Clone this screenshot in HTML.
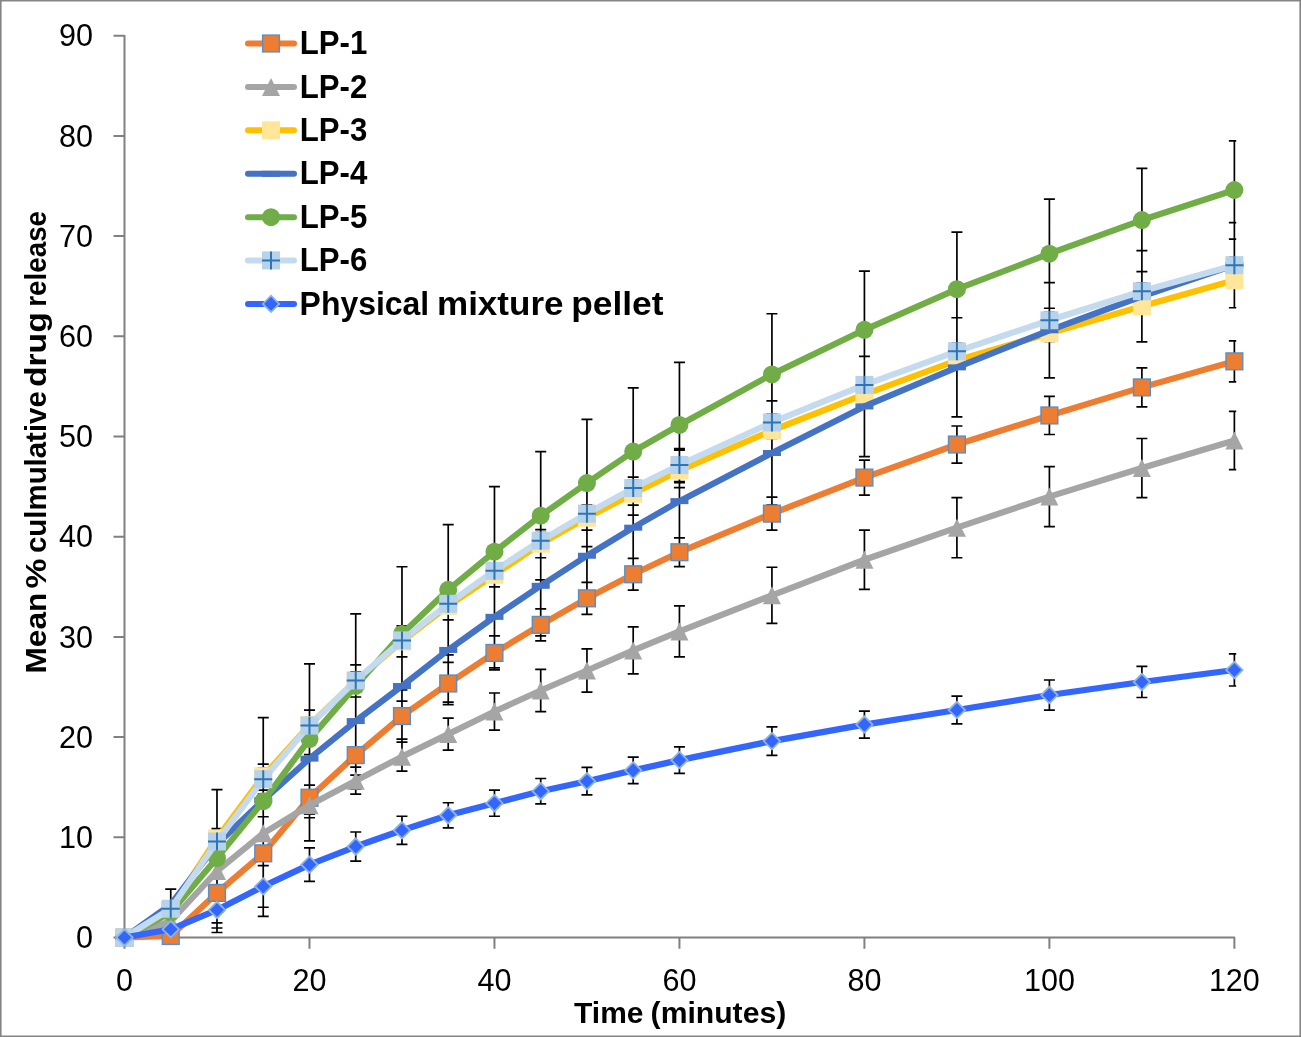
<!DOCTYPE html>
<html lang="en"><head><meta charset="utf-8"><title>Mean % cumulative drug release</title>
<style>html,body{margin:0;padding:0;background:#fff}svg{display:block}</style></head>
<body>
<svg width="1301" height="1037" viewBox="0 0 1301 1037">
<defs><clipPath id="pc"><rect x="110" y="20" width="1126.2" height="940"/></clipPath></defs>
<rect x="0" y="0" width="1301" height="1037" fill="#fff"/>
<path d="M0 0H1301V1037H0Z M1.6 1.4V1035.4H1299.4V1.4Z" fill="#858585" fill-rule="evenodd"/>
<path d="M124.50 34.95V938.25M123.75 937.50H1235.13M113.50 937.50H124.50M113.50 837.30H124.50M113.50 737.10H124.50M113.50 636.90H124.50M113.50 536.70H124.50M113.50 436.50H124.50M113.50 336.30H124.50M113.50 236.10H124.50M113.50 135.90H124.50M113.50 35.70H124.50M124.50 937.50V948.70M309.48 937.50V948.70M494.46 937.50V948.70M679.44 937.50V948.70M864.42 937.50V948.70M1049.40 937.50V948.70M1234.38 937.50V948.70" stroke="#808080" stroke-width="2" fill="none"/>
<g font-family="'Liberation Sans', Arial, sans-serif" font-size="32" fill="#000">
<text x="92.9" y="948.10" text-anchor="end" textLength="17.0" lengthAdjust="spacingAndGlyphs">0</text>
<text x="92.9" y="847.90" text-anchor="end" textLength="34.0" lengthAdjust="spacingAndGlyphs">10</text>
<text x="92.9" y="747.70" text-anchor="end" textLength="34.0" lengthAdjust="spacingAndGlyphs">20</text>
<text x="92.9" y="647.50" text-anchor="end" textLength="34.0" lengthAdjust="spacingAndGlyphs">30</text>
<text x="92.9" y="547.30" text-anchor="end" textLength="34.0" lengthAdjust="spacingAndGlyphs">40</text>
<text x="92.9" y="447.10" text-anchor="end" textLength="34.0" lengthAdjust="spacingAndGlyphs">50</text>
<text x="92.9" y="346.90" text-anchor="end" textLength="34.0" lengthAdjust="spacingAndGlyphs">60</text>
<text x="92.9" y="246.70" text-anchor="end" textLength="34.0" lengthAdjust="spacingAndGlyphs">70</text>
<text x="92.9" y="146.50" text-anchor="end" textLength="34.0" lengthAdjust="spacingAndGlyphs">80</text>
<text x="92.9" y="46.30" text-anchor="end" textLength="34.0" lengthAdjust="spacingAndGlyphs">90</text>
<text x="124.50" y="990.8" font-size="31" text-anchor="middle" textLength="17.0" lengthAdjust="spacingAndGlyphs">0</text>
<text x="309.48" y="990.8" font-size="31" text-anchor="middle" textLength="34.0" lengthAdjust="spacingAndGlyphs">20</text>
<text x="494.46" y="990.8" font-size="31" text-anchor="middle" textLength="34.0" lengthAdjust="spacingAndGlyphs">40</text>
<text x="679.44" y="990.8" font-size="31" text-anchor="middle" textLength="34.0" lengthAdjust="spacingAndGlyphs">60</text>
<text x="864.42" y="990.8" font-size="31" text-anchor="middle" textLength="34.0" lengthAdjust="spacingAndGlyphs">80</text>
<text x="1049.40" y="990.8" font-size="31" text-anchor="middle" textLength="51.0" lengthAdjust="spacingAndGlyphs">100</text>
<text x="1234.38" y="990.8" font-size="31" text-anchor="middle" textLength="51.0" lengthAdjust="spacingAndGlyphs">120</text>
</g>
<g font-family="'Liberation Sans', Arial, sans-serif" font-weight="bold" fill="#000">
<text y="1023" font-size="30"><tspan x="574.1" textLength="69.4" lengthAdjust="spacingAndGlyphs">Time</tspan> <tspan x="650.6" textLength="135.6" lengthAdjust="spacingAndGlyphs">(minutes)</tspan></text>
<text transform="translate(46.4 0) rotate(-90)" y="0" font-size="29.6"><tspan x="-673.5" textLength="80.9" lengthAdjust="spacingAndGlyphs">Mean</tspan> <tspan x="-588.6" textLength="29.9" lengthAdjust="spacingAndGlyphs">%</tspan> <tspan x="-553.0" textLength="161.8" lengthAdjust="spacingAndGlyphs">culmulative</tspan> <tspan x="-387.0" textLength="74.7" lengthAdjust="spacingAndGlyphs">drug</tspan> <tspan x="-306.8" textLength="95.9" lengthAdjust="spacingAndGlyphs">release</tspan></text>
<text x="299.7" y="54.10" font-size="32.4" textLength="67.6" lengthAdjust="spacingAndGlyphs">LP-1</text>
<text x="299.7" y="97.50" font-size="32.4" textLength="67.6" lengthAdjust="spacingAndGlyphs">LP-2</text>
<text x="299.7" y="140.90" font-size="32.4" textLength="67.6" lengthAdjust="spacingAndGlyphs">LP-3</text>
<text x="299.7" y="184.40" font-size="32.4" textLength="67.6" lengthAdjust="spacingAndGlyphs">LP-4</text>
<text x="299.7" y="227.80" font-size="32.4" textLength="67.6" lengthAdjust="spacingAndGlyphs">LP-5</text>
<text x="299.7" y="271.00" font-size="32.4" textLength="67.6" lengthAdjust="spacingAndGlyphs">LP-6</text>
<text y="314.50" font-size="32.4"><tspan x="299.6" textLength="129.6" lengthAdjust="spacingAndGlyphs">Physical</tspan> <tspan x="437.0" textLength="126.5" lengthAdjust="spacingAndGlyphs">mixture</tspan> <tspan x="571.3" textLength="92.2" lengthAdjust="spacingAndGlyphs">pellet</tspan></text>
</g>
<path d="M248 43.5H294" stroke="#ED7D31" stroke-width="6" stroke-linecap="round" fill="none"/>
<rect x="262.60" y="35.10" width="16.80" height="16.80" fill="#ED7D31" stroke="#5590CC" stroke-width="1.4"/>
<path d="M248 86.9H294" stroke="#A5A5A5" stroke-width="6" stroke-linecap="round" fill="none"/>
<path d="M271.00 77.90L280.00 95.90L262.00 95.90Z" fill="#A5A5A5"/>
<path d="M248 130.3H294" stroke="#FFC000" stroke-width="6" stroke-linecap="round" fill="none"/>
<rect x="262.00" y="121.30" width="18.00" height="18.00" fill="#FFE699"/>
<path d="M248 173.8H294" stroke="#4472C4" stroke-width="6" stroke-linecap="round" fill="none"/>
<rect x="262.00" y="170.80" width="18.00" height="6" fill="#4472C4"/>
<path d="M248 217.2H294" stroke="#70AD47" stroke-width="6" stroke-linecap="round" fill="none"/>
<circle cx="271.00" cy="217.20" r="9.00" fill="#70AD47"/>
<path d="M248 260.4H294" stroke="#C3DAEF" stroke-width="6" stroke-linecap="round" fill="none"/>
<rect x="262.00" y="251.40" width="18.00" height="18.00" fill="#B7D2EB"/><path d="M262.00 260.40H280.00M271.00 251.40V269.40" stroke="#2E75B6" stroke-width="2" fill="none"/>
<path d="M248 303.9H294" stroke="#3366FF" stroke-width="6" stroke-linecap="round" fill="none"/>
<path d="M271.00 295.70L279.20 303.90L271.00 312.10L262.80 303.90Z" fill="#3366FF" stroke="#8DB4E2" stroke-width="1.8"/>
<path d="M170.75 932.99V939.00M165.25 932.99h11M165.25 939.00h11M216.99 853.33V932.49M211.49 853.33h11M211.49 932.49h11M263.24 790.21V916.46M257.74 790.21h11M257.74 916.46h11M309.48 754.63V840.81M303.98 754.63h11M303.98 840.81h11M355.73 721.07V789.20M350.23 721.07h11M350.23 789.20h11M401.97 690.01V742.11M396.47 690.01h11M396.47 742.11h11M448.22 662.45V704.53M442.72 662.45h11M442.72 704.53h11M494.46 635.90V669.97M488.96 635.90h11M488.96 669.97h11M540.71 608.84V640.91M535.21 608.84h11M535.21 640.91h11M586.95 582.29V614.36M581.45 582.29h11M581.45 614.36h11M633.20 558.44V590.11M627.70 558.44h11M627.70 590.11h11M679.44 537.90V566.56M673.94 537.90h11M673.94 566.56h11M771.93 497.12V530.19M766.43 497.12h11M766.43 530.19h11M864.42 460.05V495.12M858.92 460.05h11M858.92 495.12h11M956.91 425.98V463.05M951.41 425.98h11M951.41 463.05h11M1049.40 396.42V434.50M1043.90 396.42h11M1043.90 434.50h11M1141.89 367.86V406.94M1136.39 367.86h11M1136.39 406.94h11M1234.38 340.81V381.89M1228.88 340.81h11M1228.88 381.89h11M170.75 918.26V924.27M165.25 918.26h11M165.25 924.27h11M216.99 863.05V879.08M211.49 863.05h11M211.49 879.08h11M263.24 816.76V849.83M257.74 816.76h11M257.74 849.83h11M309.48 785.20V817.76M303.98 785.20h11M303.98 817.76h11M355.73 767.16V794.21M350.23 767.16h11M350.23 794.21h11M401.97 742.11V771.17M396.47 742.11h11M396.47 771.17h11M448.22 718.06V750.13M442.72 718.06h11M442.72 750.13h11M494.46 693.01V730.09M488.96 693.01h11M488.96 730.09h11M540.71 669.47V711.55M535.21 669.47h11M535.21 711.55h11M586.95 648.82V692.11M581.45 648.82h11M581.45 692.11h11M633.20 626.88V673.97M627.70 626.88h11M627.70 673.97h11M679.44 605.84V656.94M673.94 605.84h11M673.94 656.94h11M771.93 567.26V623.37M766.43 567.26h11M766.43 623.37h11M864.42 530.19V589.31M858.92 530.19h11M858.92 589.31h11M956.91 497.62V557.74M951.41 497.62h11M951.41 557.74h11M1049.40 466.56V526.68M1043.90 466.56h11M1043.90 526.68h11M1141.89 438.50V497.62M1136.39 438.50h11M1136.39 497.62h11M1234.38 411.45V469.57M1228.88 411.45h11M1228.88 469.57h11M170.75 903.93V913.95M165.25 903.93h11M165.25 913.95h11M216.99 830.29V846.32M211.49 830.29h11M211.49 846.32h11M263.24 768.16V784.19M257.74 768.16h11M257.74 784.19h11M309.48 717.06V733.09M303.98 717.06h11M303.98 733.09h11M355.73 664.96V697.02M350.23 664.96h11M350.23 697.02h11M401.97 625.88V656.94M396.47 625.88h11M396.47 656.94h11M448.22 591.81V619.87M442.72 591.81h11M442.72 619.87h11M494.46 562.75V586.80M488.96 562.75h11M488.96 586.80h11M540.71 529.69V557.74M535.21 529.69h11M535.21 557.74h11M586.95 505.14V530.19M581.45 505.14h11M581.45 530.19h11M633.20 482.09V505.14M627.70 482.09h11M627.70 505.14h11M679.44 458.54V482.59M673.94 458.54h11M673.94 482.59h11M771.93 422.47V438.50M766.43 422.47h11M766.43 438.50h11M864.42 386.40V402.43M858.92 386.40h11M858.92 402.43h11M956.91 352.33V368.36M951.41 352.33h11M951.41 368.36h11M1049.40 325.28V341.31M1043.90 325.28h11M1043.90 341.31h11M1141.89 298.22V314.26M1136.39 298.22h11M1136.39 314.26h11M1234.38 272.17V288.20M1228.88 272.17h11M1228.88 288.20h11M170.75 901.43V907.44M165.25 901.43h11M165.25 907.44h11M216.99 829.28V859.34M211.49 829.28h11M211.49 859.34h11M263.24 764.15V836.30M257.74 764.15h11M257.74 836.30h11M309.48 710.05V807.24M303.98 710.05h11M303.98 807.24h11M355.73 671.97V775.18M350.23 671.97h11M350.23 775.18h11M401.97 632.89V739.10M396.47 632.89h11M396.47 739.10h11M448.22 597.82V702.03M442.72 597.82h11M442.72 702.03h11M494.46 565.76V667.96M488.96 565.76h11M488.96 667.96h11M540.71 535.70V635.90M535.21 535.70h11M535.21 635.90h11M586.95 506.64V604.84M581.45 506.64h11M581.45 604.84h11M633.20 477.08V578.28M627.70 477.08h11M627.70 578.28h11M679.44 450.03V552.23M673.94 450.03h11M673.94 552.23h11M771.93 400.93V505.14M766.43 400.93h11M766.43 505.14h11M864.42 356.34V456.54M858.92 356.34h11M858.92 456.54h11M956.91 317.76V416.96M951.41 317.76h11M951.41 416.96h11M1049.40 282.69V377.88M1043.90 282.69h11M1043.90 377.88h11M1141.89 250.63V341.81M1136.39 250.63h11M1136.39 341.81h11M1234.38 222.57V307.74M1228.88 222.57h11M1228.88 307.74h11M170.75 906.44V918.46M165.25 906.44h11M165.25 918.46h11M216.99 789.60V922.97M211.49 789.60h11M211.49 922.97h11M263.24 717.56V884.89M257.74 717.56h11M257.74 884.89h11M309.48 663.95V814.25M303.98 663.95h11M303.98 814.25h11M355.73 613.85V758.14M350.23 613.85h11M350.23 758.14h11M401.97 566.76V701.03M396.47 566.76h11M396.47 701.03h11M448.22 524.68V654.94M442.72 524.68h11M442.72 654.94h11M494.46 486.60V616.86M488.96 486.60h11M488.96 616.86h11M540.71 451.53V579.79M535.21 451.53h11M535.21 579.79h11M586.95 419.47V546.72M581.45 419.47h11M581.45 546.72h11M633.20 387.90V515.16M627.70 387.90h11M627.70 515.16h11M679.44 362.35V487.60M673.94 362.35h11M673.94 487.60h11M771.93 313.75V435.00M766.43 313.75h11M766.43 435.00h11M864.42 271.17V388.40M858.92 271.17h11M858.92 388.40h11M956.91 232.09V346.32M951.41 232.09h11M951.41 346.32h11M1049.40 199.03V308.24M1043.90 199.03h11M1043.90 308.24h11M1141.89 168.47V271.67M1136.39 168.47h11M1136.39 271.67h11M1234.38 140.91V239.11M1228.88 140.91h11M1228.88 239.11h11M170.75 889.20V916.76M165.25 889.20h11M165.25 916.76h11M216.99 828.48V854.53M211.49 828.48h11M211.49 854.53h11M263.24 764.15V794.21M257.74 764.15h11M257.74 794.21h11M309.48 710.05V741.11M303.98 710.05h11M303.98 741.11h11M355.73 672.47V688.50M350.23 672.47h11M350.23 688.50h11M401.97 632.39V648.42M396.47 632.39h11M396.47 648.42h11M448.22 595.82V611.85M442.72 595.82h11M442.72 611.85h11M494.46 562.75V578.78M488.96 562.75h11M488.96 578.78h11M540.71 532.69V548.72M535.21 532.69h11M535.21 548.72h11M586.95 505.64V521.67M581.45 505.64h11M581.45 521.67h11M633.20 480.09V496.12M627.70 480.09h11M627.70 496.12h11M679.44 448.52V481.59M673.94 448.52h11M673.94 481.59h11M771.93 414.46V430.49M766.43 414.46h11M766.43 430.49h11M864.42 376.88V392.91M858.92 376.88h11M858.92 392.91h11M956.91 343.31V359.35M951.41 343.31h11M951.41 359.35h11M1049.40 312.25V328.28M1043.90 312.25h11M1043.90 328.28h11M1141.89 283.19V299.23M1136.39 283.19h11M1136.39 299.23h11M1234.38 257.14V273.17M1228.88 257.14h11M1228.88 273.17h11M170.75 926.28V932.29M165.25 926.28h11M165.25 932.29h11M216.99 891.91V927.98M211.49 891.91h11M211.49 927.98h11M263.24 865.56V907.24M257.74 865.56h11M257.74 907.24h11M309.48 847.92V881.39M303.98 847.92h11M303.98 881.39h11M355.73 831.99V861.05M350.23 831.99h11M350.23 861.05h11M401.97 816.26V844.31M396.47 816.26h11M396.47 844.31h11M448.22 802.73V827.78M442.72 802.73h11M442.72 827.78h11M494.46 790.21V816.26M488.96 790.21h11M488.96 816.26h11M540.71 778.48V803.93M535.21 778.48h11M535.21 803.93h11M586.95 767.46V794.92M581.45 767.46h11M581.45 794.92h11M633.20 757.04V783.69M627.70 757.04h11M627.70 783.69h11M679.44 746.82V773.47M673.94 746.82h11M673.94 773.47h11M771.93 726.78V755.44M766.43 726.78h11M766.43 755.44h11M864.42 711.05V738.10M858.92 711.05h11M858.92 738.10h11M956.91 696.22V723.87M951.41 696.22h11M951.41 723.87h11M1049.40 679.99V710.05M1043.90 679.99h11M1043.90 710.05h11M1141.89 666.46V697.52M1136.39 666.46h11M1136.39 697.52h11M1234.38 653.93V686.00M1228.88 653.93h11M1228.88 686.00h11" stroke="#000" stroke-width="1.7" fill="none" clip-path="url(#pc)"/>
<polyline points="124.50,937.50 170.75,936.00 216.99,892.91 263.24,853.33 309.48,797.72 355.73,755.14 401.97,716.06 448.22,683.49 494.46,652.93 540.71,624.88 586.95,598.32 633.20,574.28 679.44,552.23 771.93,513.65 864.42,477.58 956.91,444.52 1049.40,415.46 1141.89,387.40 1234.38,361.35" stroke="#ED7D31" stroke-width="6.2" stroke-linejoin="round" stroke-linecap="round" fill="none"/>
<rect x="116.10" y="929.10" width="16.80" height="16.80" fill="#ED7D31" stroke="#5590CC" stroke-width="1.4"/>
<rect x="162.34" y="927.60" width="16.80" height="16.80" fill="#ED7D31" stroke="#5590CC" stroke-width="1.4"/>
<rect x="208.59" y="884.51" width="16.80" height="16.80" fill="#ED7D31" stroke="#5590CC" stroke-width="1.4"/>
<rect x="254.84" y="844.93" width="16.80" height="16.80" fill="#ED7D31" stroke="#5590CC" stroke-width="1.4"/>
<rect x="301.08" y="789.32" width="16.80" height="16.80" fill="#ED7D31" stroke="#5590CC" stroke-width="1.4"/>
<rect x="347.33" y="746.74" width="16.80" height="16.80" fill="#ED7D31" stroke="#5590CC" stroke-width="1.4"/>
<rect x="393.57" y="707.66" width="16.80" height="16.80" fill="#ED7D31" stroke="#5590CC" stroke-width="1.4"/>
<rect x="439.82" y="675.09" width="16.80" height="16.80" fill="#ED7D31" stroke="#5590CC" stroke-width="1.4"/>
<rect x="486.06" y="644.53" width="16.80" height="16.80" fill="#ED7D31" stroke="#5590CC" stroke-width="1.4"/>
<rect x="532.31" y="616.48" width="16.80" height="16.80" fill="#ED7D31" stroke="#5590CC" stroke-width="1.4"/>
<rect x="578.55" y="589.92" width="16.80" height="16.80" fill="#ED7D31" stroke="#5590CC" stroke-width="1.4"/>
<rect x="624.80" y="565.88" width="16.80" height="16.80" fill="#ED7D31" stroke="#5590CC" stroke-width="1.4"/>
<rect x="671.04" y="543.83" width="16.80" height="16.80" fill="#ED7D31" stroke="#5590CC" stroke-width="1.4"/>
<rect x="763.53" y="505.25" width="16.80" height="16.80" fill="#ED7D31" stroke="#5590CC" stroke-width="1.4"/>
<rect x="856.02" y="469.18" width="16.80" height="16.80" fill="#ED7D31" stroke="#5590CC" stroke-width="1.4"/>
<rect x="948.51" y="436.12" width="16.80" height="16.80" fill="#ED7D31" stroke="#5590CC" stroke-width="1.4"/>
<rect x="1041.00" y="407.06" width="16.80" height="16.80" fill="#ED7D31" stroke="#5590CC" stroke-width="1.4"/>
<rect x="1133.49" y="379.00" width="16.80" height="16.80" fill="#ED7D31" stroke="#5590CC" stroke-width="1.4"/>
<rect x="1225.98" y="352.95" width="16.80" height="16.80" fill="#ED7D31" stroke="#5590CC" stroke-width="1.4"/>
<polyline points="124.50,937.50 170.75,921.27 216.99,871.07 263.24,833.29 309.48,805.24 355.73,780.69 401.97,756.64 448.22,734.09 494.46,711.55 540.71,690.51 586.95,670.47 633.20,650.43 679.44,631.39 771.93,595.32 864.42,559.75 956.91,527.68 1049.40,496.62 1141.89,468.06 1234.38,440.51" stroke="#A5A5A5" stroke-width="6.2" stroke-linejoin="round" stroke-linecap="round" fill="none"/>
<path d="M124.50 928.50L133.50 946.50L115.50 946.50Z" fill="#A5A5A5"/>
<path d="M170.75 912.27L179.75 930.27L161.75 930.27Z" fill="#A5A5A5"/>
<path d="M216.99 862.07L225.99 880.07L207.99 880.07Z" fill="#A5A5A5"/>
<path d="M263.24 824.29L272.24 842.29L254.24 842.29Z" fill="#A5A5A5"/>
<path d="M309.48 796.24L318.48 814.24L300.48 814.24Z" fill="#A5A5A5"/>
<path d="M355.73 771.69L364.73 789.69L346.73 789.69Z" fill="#A5A5A5"/>
<path d="M401.97 747.64L410.97 765.64L392.97 765.64Z" fill="#A5A5A5"/>
<path d="M448.22 725.09L457.22 743.09L439.22 743.09Z" fill="#A5A5A5"/>
<path d="M494.46 702.55L503.46 720.55L485.46 720.55Z" fill="#A5A5A5"/>
<path d="M540.71 681.51L549.71 699.51L531.71 699.51Z" fill="#A5A5A5"/>
<path d="M586.95 661.47L595.95 679.47L577.95 679.47Z" fill="#A5A5A5"/>
<path d="M633.20 641.43L642.20 659.43L624.20 659.43Z" fill="#A5A5A5"/>
<path d="M679.44 622.39L688.44 640.39L670.44 640.39Z" fill="#A5A5A5"/>
<path d="M771.93 586.32L780.93 604.32L762.93 604.32Z" fill="#A5A5A5"/>
<path d="M864.42 550.75L873.42 568.75L855.42 568.75Z" fill="#A5A5A5"/>
<path d="M956.91 518.68L965.91 536.68L947.91 536.68Z" fill="#A5A5A5"/>
<path d="M1049.40 487.62L1058.40 505.62L1040.40 505.62Z" fill="#A5A5A5"/>
<path d="M1141.89 459.06L1150.89 477.06L1132.89 477.06Z" fill="#A5A5A5"/>
<path d="M1234.38 431.51L1243.38 449.51L1225.38 449.51Z" fill="#A5A5A5"/>
<polyline points="124.50,937.50 170.75,908.94 216.99,838.30 263.24,776.18 309.48,725.08 355.73,680.99 401.97,641.41 448.22,605.84 494.46,574.78 540.71,543.71 586.95,517.66 633.20,493.61 679.44,470.57 771.93,430.49 864.42,394.42 956.91,360.35 1049.40,333.29 1141.89,306.24 1234.38,280.19" stroke="#FFC000" stroke-width="6.2" stroke-linejoin="round" stroke-linecap="round" fill="none"/>
<rect x="115.50" y="928.50" width="18.00" height="18.00" fill="#FFE699"/>
<rect x="161.75" y="899.94" width="18.00" height="18.00" fill="#FFE699"/>
<rect x="207.99" y="829.30" width="18.00" height="18.00" fill="#FFE699"/>
<rect x="254.24" y="767.18" width="18.00" height="18.00" fill="#FFE699"/>
<rect x="300.48" y="716.08" width="18.00" height="18.00" fill="#FFE699"/>
<rect x="346.73" y="671.99" width="18.00" height="18.00" fill="#FFE699"/>
<rect x="392.97" y="632.41" width="18.00" height="18.00" fill="#FFE699"/>
<rect x="439.22" y="596.84" width="18.00" height="18.00" fill="#FFE699"/>
<rect x="485.46" y="565.78" width="18.00" height="18.00" fill="#FFE699"/>
<rect x="531.71" y="534.71" width="18.00" height="18.00" fill="#FFE699"/>
<rect x="577.95" y="508.66" width="18.00" height="18.00" fill="#FFE699"/>
<rect x="624.20" y="484.61" width="18.00" height="18.00" fill="#FFE699"/>
<rect x="670.44" y="461.57" width="18.00" height="18.00" fill="#FFE699"/>
<rect x="762.93" y="421.49" width="18.00" height="18.00" fill="#FFE699"/>
<rect x="855.42" y="385.42" width="18.00" height="18.00" fill="#FFE699"/>
<rect x="947.91" y="351.35" width="18.00" height="18.00" fill="#FFE699"/>
<rect x="1040.40" y="324.29" width="18.00" height="18.00" fill="#FFE699"/>
<rect x="1132.89" y="297.24" width="18.00" height="18.00" fill="#FFE699"/>
<rect x="1225.38" y="271.19" width="18.00" height="18.00" fill="#FFE699"/>
<polyline points="124.50,937.50 170.75,904.43 216.99,844.31 263.24,800.23 309.48,758.64 355.73,721.07 401.97,686.00 448.22,649.93 494.46,616.86 540.71,585.80 586.95,555.74 633.20,527.68 679.44,501.13 771.93,453.03 864.42,406.44 956.91,367.36 1049.40,330.29 1141.89,296.22 1234.38,265.16" stroke="#4472C4" stroke-width="6.2" stroke-linejoin="round" stroke-linecap="round" fill="none"/>
<rect x="115.50" y="934.50" width="18.00" height="6" fill="#4472C4"/>
<rect x="161.75" y="901.43" width="18.00" height="6" fill="#4472C4"/>
<rect x="207.99" y="841.31" width="18.00" height="6" fill="#4472C4"/>
<rect x="254.24" y="797.23" width="18.00" height="6" fill="#4472C4"/>
<rect x="300.48" y="755.64" width="18.00" height="6" fill="#4472C4"/>
<rect x="346.73" y="718.07" width="18.00" height="6" fill="#4472C4"/>
<rect x="392.97" y="683.00" width="18.00" height="6" fill="#4472C4"/>
<rect x="439.22" y="646.93" width="18.00" height="6" fill="#4472C4"/>
<rect x="485.46" y="613.86" width="18.00" height="6" fill="#4472C4"/>
<rect x="531.71" y="582.80" width="18.00" height="6" fill="#4472C4"/>
<rect x="577.95" y="552.74" width="18.00" height="6" fill="#4472C4"/>
<rect x="624.20" y="524.68" width="18.00" height="6" fill="#4472C4"/>
<rect x="670.44" y="498.13" width="18.00" height="6" fill="#4472C4"/>
<rect x="762.93" y="450.03" width="18.00" height="6" fill="#4472C4"/>
<rect x="855.42" y="403.44" width="18.00" height="6" fill="#4472C4"/>
<rect x="947.91" y="364.36" width="18.00" height="6" fill="#4472C4"/>
<rect x="1040.40" y="327.29" width="18.00" height="6" fill="#4472C4"/>
<rect x="1132.89" y="293.22" width="18.00" height="6" fill="#4472C4"/>
<rect x="1225.38" y="262.16" width="18.00" height="6" fill="#4472C4"/>
<polyline points="124.50,937.50 170.75,912.45 216.99,858.04 263.24,801.23 309.48,739.10 355.73,686.00 401.97,633.89 448.22,589.81 494.46,551.73 540.71,515.66 586.95,483.09 633.20,451.53 679.44,424.98 771.93,374.38 864.42,329.79 956.91,289.21 1049.40,253.63 1141.89,220.07 1234.38,190.01" stroke="#70AD47" stroke-width="6.2" stroke-linejoin="round" stroke-linecap="round" fill="none"/>
<circle cx="124.50" cy="937.50" r="9.00" fill="#70AD47"/>
<circle cx="170.75" cy="912.45" r="9.00" fill="#70AD47"/>
<circle cx="216.99" cy="858.04" r="9.00" fill="#70AD47"/>
<circle cx="263.24" cy="801.23" r="9.00" fill="#70AD47"/>
<circle cx="309.48" cy="739.10" r="9.00" fill="#70AD47"/>
<circle cx="355.73" cy="686.00" r="9.00" fill="#70AD47"/>
<circle cx="401.97" cy="633.89" r="9.00" fill="#70AD47"/>
<circle cx="448.22" cy="589.81" r="9.00" fill="#70AD47"/>
<circle cx="494.46" cy="551.73" r="9.00" fill="#70AD47"/>
<circle cx="540.71" cy="515.66" r="9.00" fill="#70AD47"/>
<circle cx="586.95" cy="483.09" r="9.00" fill="#70AD47"/>
<circle cx="633.20" cy="451.53" r="9.00" fill="#70AD47"/>
<circle cx="679.44" cy="424.98" r="9.00" fill="#70AD47"/>
<circle cx="771.93" cy="374.38" r="9.00" fill="#70AD47"/>
<circle cx="864.42" cy="329.79" r="9.00" fill="#70AD47"/>
<circle cx="956.91" cy="289.21" r="9.00" fill="#70AD47"/>
<circle cx="1049.40" cy="253.63" r="9.00" fill="#70AD47"/>
<circle cx="1141.89" cy="220.07" r="9.00" fill="#70AD47"/>
<circle cx="1234.38" cy="190.01" r="9.00" fill="#70AD47"/>
<polyline points="124.50,937.50 170.75,908.74 216.99,841.51 263.24,779.18 309.48,725.58 355.73,680.49 401.97,640.41 448.22,603.83 494.46,570.77 540.71,540.71 586.95,513.65 633.20,488.10 679.44,465.06 771.93,422.47 864.42,384.90 956.91,351.33 1049.40,320.27 1141.89,291.21 1234.38,265.16" stroke="#C3DAEF" stroke-width="6.2" stroke-linejoin="round" stroke-linecap="round" fill="none"/>
<rect x="115.50" y="928.50" width="18.00" height="18.00" fill="#B7D2EB"/><path d="M115.50 937.50H133.50M124.50 928.50V946.50" stroke="#2E75B6" stroke-width="2" fill="none"/>
<rect x="161.75" y="899.74" width="18.00" height="18.00" fill="#B7D2EB"/><path d="M161.75 908.74H179.75M170.75 899.74V917.74" stroke="#2E75B6" stroke-width="2" fill="none"/>
<rect x="207.99" y="832.51" width="18.00" height="18.00" fill="#B7D2EB"/><path d="M207.99 841.51H225.99M216.99 832.51V850.51" stroke="#2E75B6" stroke-width="2" fill="none"/>
<rect x="254.24" y="770.18" width="18.00" height="18.00" fill="#B7D2EB"/><path d="M254.24 779.18H272.24M263.24 770.18V788.18" stroke="#2E75B6" stroke-width="2" fill="none"/>
<rect x="300.48" y="716.58" width="18.00" height="18.00" fill="#B7D2EB"/><path d="M300.48 725.58H318.48M309.48 716.58V734.58" stroke="#2E75B6" stroke-width="2" fill="none"/>
<rect x="346.73" y="671.49" width="18.00" height="18.00" fill="#B7D2EB"/><path d="M346.73 680.49H364.73M355.73 671.49V689.49" stroke="#2E75B6" stroke-width="2" fill="none"/>
<rect x="392.97" y="631.41" width="18.00" height="18.00" fill="#B7D2EB"/><path d="M392.97 640.41H410.97M401.97 631.41V649.41" stroke="#2E75B6" stroke-width="2" fill="none"/>
<rect x="439.22" y="594.83" width="18.00" height="18.00" fill="#B7D2EB"/><path d="M439.22 603.83H457.22M448.22 594.83V612.83" stroke="#2E75B6" stroke-width="2" fill="none"/>
<rect x="485.46" y="561.77" width="18.00" height="18.00" fill="#B7D2EB"/><path d="M485.46 570.77H503.46M494.46 561.77V579.77" stroke="#2E75B6" stroke-width="2" fill="none"/>
<rect x="531.71" y="531.71" width="18.00" height="18.00" fill="#B7D2EB"/><path d="M531.71 540.71H549.71M540.71 531.71V549.71" stroke="#2E75B6" stroke-width="2" fill="none"/>
<rect x="577.95" y="504.65" width="18.00" height="18.00" fill="#B7D2EB"/><path d="M577.95 513.65H595.95M586.95 504.65V522.65" stroke="#2E75B6" stroke-width="2" fill="none"/>
<rect x="624.20" y="479.10" width="18.00" height="18.00" fill="#B7D2EB"/><path d="M624.20 488.10H642.20M633.20 479.10V497.10" stroke="#2E75B6" stroke-width="2" fill="none"/>
<rect x="670.44" y="456.06" width="18.00" height="18.00" fill="#B7D2EB"/><path d="M670.44 465.06H688.44M679.44 456.06V474.06" stroke="#2E75B6" stroke-width="2" fill="none"/>
<rect x="762.93" y="413.47" width="18.00" height="18.00" fill="#B7D2EB"/><path d="M762.93 422.47H780.93M771.93 413.47V431.47" stroke="#2E75B6" stroke-width="2" fill="none"/>
<rect x="855.42" y="375.90" width="18.00" height="18.00" fill="#B7D2EB"/><path d="M855.42 384.90H873.42M864.42 375.90V393.90" stroke="#2E75B6" stroke-width="2" fill="none"/>
<rect x="947.91" y="342.33" width="18.00" height="18.00" fill="#B7D2EB"/><path d="M947.91 351.33H965.91M956.91 342.33V360.33" stroke="#2E75B6" stroke-width="2" fill="none"/>
<rect x="1040.40" y="311.27" width="18.00" height="18.00" fill="#B7D2EB"/><path d="M1040.40 320.27H1058.40M1049.40 311.27V329.27" stroke="#2E75B6" stroke-width="2" fill="none"/>
<rect x="1132.89" y="282.21" width="18.00" height="18.00" fill="#B7D2EB"/><path d="M1132.89 291.21H1150.89M1141.89 282.21V300.21" stroke="#2E75B6" stroke-width="2" fill="none"/>
<rect x="1225.38" y="256.16" width="18.00" height="18.00" fill="#B7D2EB"/><path d="M1225.38 265.16H1243.38M1234.38 256.16V274.16" stroke="#2E75B6" stroke-width="2" fill="none"/>
<polyline points="124.50,937.50 170.75,929.28 216.99,909.95 263.24,886.40 309.48,864.65 355.73,846.52 401.97,830.29 448.22,815.26 494.46,803.23 540.71,791.21 586.95,781.19 633.20,770.37 679.44,760.15 771.93,741.11 864.42,724.58 956.91,710.05 1049.40,695.02 1141.89,681.99 1234.38,669.97" stroke="#3366FF" stroke-width="6.2" stroke-linejoin="round" stroke-linecap="round" fill="none"/>
<path d="M124.50 929.30L132.70 937.50L124.50 945.70L116.30 937.50Z" fill="#3366FF" stroke="#8DB4E2" stroke-width="1.8"/>
<path d="M170.75 921.08L178.94 929.28L170.75 937.48L162.55 929.28Z" fill="#3366FF" stroke="#8DB4E2" stroke-width="1.8"/>
<path d="M216.99 901.75L225.19 909.95L216.99 918.15L208.79 909.95Z" fill="#3366FF" stroke="#8DB4E2" stroke-width="1.8"/>
<path d="M263.24 878.20L271.44 886.40L263.24 894.60L255.04 886.40Z" fill="#3366FF" stroke="#8DB4E2" stroke-width="1.8"/>
<path d="M309.48 856.45L317.68 864.65L309.48 872.85L301.28 864.65Z" fill="#3366FF" stroke="#8DB4E2" stroke-width="1.8"/>
<path d="M355.73 838.32L363.93 846.52L355.73 854.72L347.53 846.52Z" fill="#3366FF" stroke="#8DB4E2" stroke-width="1.8"/>
<path d="M401.97 822.09L410.17 830.29L401.97 838.49L393.77 830.29Z" fill="#3366FF" stroke="#8DB4E2" stroke-width="1.8"/>
<path d="M448.22 807.06L456.42 815.26L448.22 823.46L440.02 815.26Z" fill="#3366FF" stroke="#8DB4E2" stroke-width="1.8"/>
<path d="M494.46 795.03L502.66 803.23L494.46 811.43L486.26 803.23Z" fill="#3366FF" stroke="#8DB4E2" stroke-width="1.8"/>
<path d="M540.71 783.01L548.91 791.21L540.71 799.41L532.50 791.21Z" fill="#3366FF" stroke="#8DB4E2" stroke-width="1.8"/>
<path d="M586.95 772.99L595.15 781.19L586.95 789.39L578.75 781.19Z" fill="#3366FF" stroke="#8DB4E2" stroke-width="1.8"/>
<path d="M633.20 762.17L641.40 770.37L633.20 778.57L625.00 770.37Z" fill="#3366FF" stroke="#8DB4E2" stroke-width="1.8"/>
<path d="M679.44 751.95L687.64 760.15L679.44 768.35L671.24 760.15Z" fill="#3366FF" stroke="#8DB4E2" stroke-width="1.8"/>
<path d="M771.93 732.91L780.13 741.11L771.93 749.31L763.73 741.11Z" fill="#3366FF" stroke="#8DB4E2" stroke-width="1.8"/>
<path d="M864.42 716.38L872.62 724.58L864.42 732.78L856.22 724.58Z" fill="#3366FF" stroke="#8DB4E2" stroke-width="1.8"/>
<path d="M956.91 701.85L965.11 710.05L956.91 718.25L948.71 710.05Z" fill="#3366FF" stroke="#8DB4E2" stroke-width="1.8"/>
<path d="M1049.40 686.82L1057.60 695.02L1049.40 703.22L1041.20 695.02Z" fill="#3366FF" stroke="#8DB4E2" stroke-width="1.8"/>
<path d="M1141.89 673.79L1150.09 681.99L1141.89 690.19L1133.69 681.99Z" fill="#3366FF" stroke="#8DB4E2" stroke-width="1.8"/>
<path d="M1234.38 661.77L1242.58 669.97L1234.38 678.17L1226.18 669.97Z" fill="#3366FF" stroke="#8DB4E2" stroke-width="1.8"/>
</svg>
</body></html>
